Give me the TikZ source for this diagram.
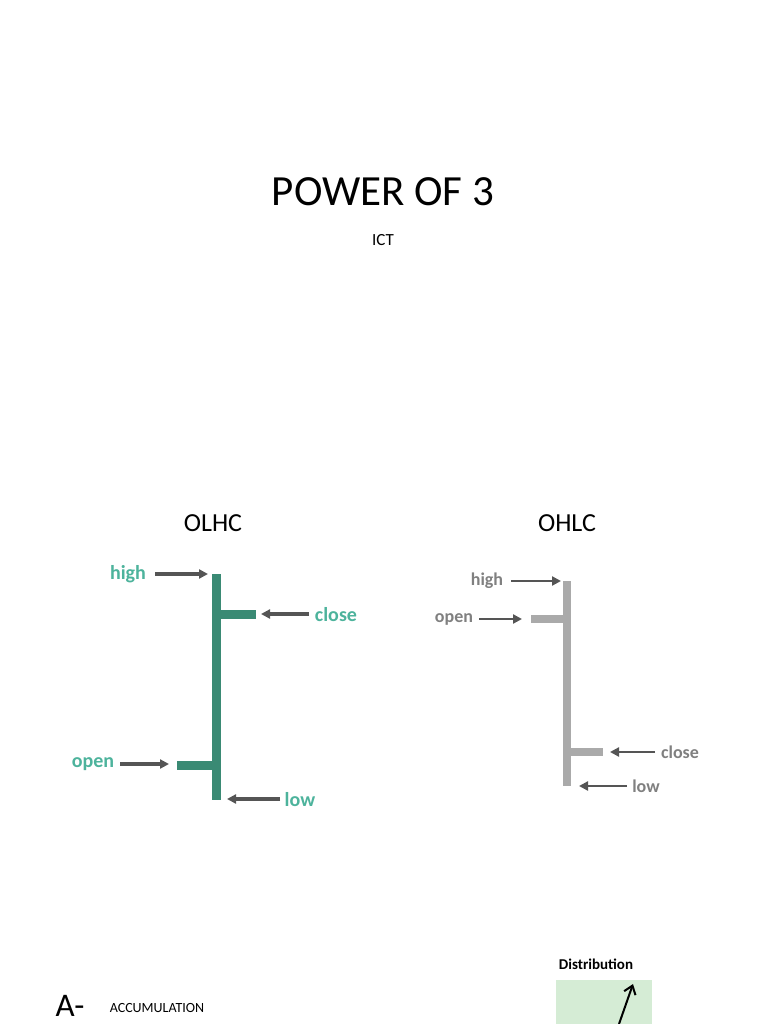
\documentclass[tikz,border=0pt]{standalone}
\usepackage{fontspec}
\setmainfont{Carlito}
\usetikzlibrary{arrows.meta}
\definecolor{teal1}{HTML}{3A8A74}
\definecolor{teal2}{HTML}{4DB39C}
\definecolor{gbar}{HTML}{AAAAAA}
\definecolor{gtxt}{HTML}{808080}
\definecolor{arr}{HTML}{555555}
\definecolor{gbox}{HTML}{D5ECD5}
\begin{document}
\begin{tikzpicture}[x=1pt,y=-1pt,
  ar/.style={-{Triangle[length=9pt,width=9pt]},line width=3.2pt,draw=arr},
  lt/.style={font=\bfseries\fontsize{20}{22}\selectfont,text=teal2,inner sep=0},
  lg/.style={font=\bfseries\fontsize{18}{20}\selectfont,text=gtxt,inner sep=0}]
\useasboundingbox (0,0) rectangle (768,1024);
\node (title) at (383,192) {\fontsize{43}{48}\selectfont POWER OF 3};
\node (ict) at (383,240) {\fontsize{17}{20}\selectfont ICT};
\node (olhc) at (213,523) {\fontsize{26}{30}\selectfont OLHC};
\node (ohlc) at (567,523) {\fontsize{26}{30}\selectfont OHLC};
% left candle
\fill[teal1] (212,574) rectangle (221,800);
\fill[teal1] (216,609.5) rectangle (256,618.5);
\fill[teal1] (177,760.5) rectangle (216,769.5);
\node[lt] (hA) at (128,574) {high};
\coordinate (hA1) at (155,574); \coordinate (hA2) at (208,574);
\draw[ar] (hA1) -- (hA2);
\node[lt] (cA) at (336,615) {close};
\coordinate (cA1) at (309,614); \coordinate (cA2) at (261,614);
\draw[ar] (cA1) -- (cA2);
\node[lt] (oA) at (93,764) {open};
\coordinate (oA1) at (120,764); \coordinate (oA2) at (169,764);
\draw[ar] (oA1) -- (oA2);
\node[lt] (lA) at (300,800) {low};
\coordinate (lA1) at (280,799); \coordinate (lA2) at (227,799);
\draw[ar] (lA1) -- (lA2);
% right candle
\fill[gbar] (563,581) rectangle (571,786);
\fill[gbar] (531,615) rectangle (567,623);
\fill[gbar] (567,748) rectangle (603,756);
\node[lg] (hB) at (487,581) {high};
\coordinate (hB1) at (511,581); \coordinate (hB2) at (561,581);
\draw[ar,line width=2.8pt] (hB1) -- (hB2);
\node[lg] (oB) at (454,619) {open};
\coordinate (oB1) at (479,619); \coordinate (oB2) at (522,619);
\draw[ar,line width=2.8pt] (oB1) -- (oB2);
\node[lg] (cB) at (680,752) {close};
\coordinate (cB1) at (655,752); \coordinate (cB2) at (610,752);
\draw[ar,line width=2.8pt] (cB1) -- (cB2);
\node[lg] (lB) at (646,786) {low};
\coordinate (lB1) at (627,786); \coordinate (lB2) at (579,786);
\draw[ar,line width=2.8pt] (lB1) -- (lB2);
% bottom
\node (A) at (70,1006) {\fontsize{33}{36}\selectfont A-};
\node (acc) at (157,1008) {\fontsize{14}{16}\selectfont ACCUMULATION};
\node (dist) at (596,964) {\bfseries\fontsize{15}{17}\selectfont Distribution};
\fill[gbox] (556,980) rectangle (652,1024);
\coordinate (d1) at (619,1024); \coordinate (d2) at (633,984);
\draw[-{Straight Barb[length=8pt,width=12pt]},line width=2pt] (d1) -- (d2);
\end{tikzpicture}
\end{document}
